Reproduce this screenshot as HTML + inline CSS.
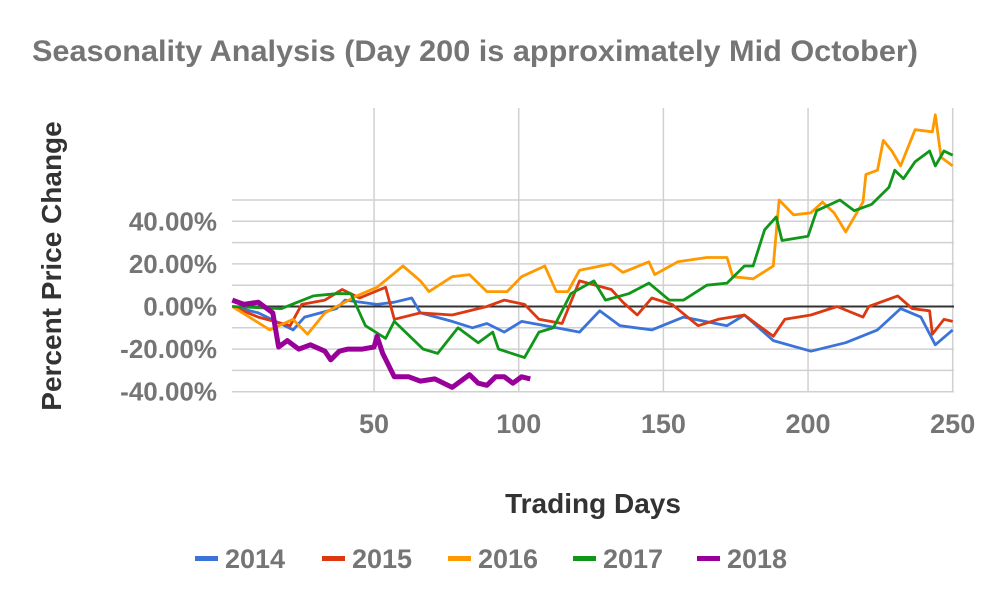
<!DOCTYPE html>
<html><head><meta charset="utf-8"><style>
body{margin:0;background:#fff;width:984px;height:609px;overflow:hidden;font-family:"Liberation Sans",sans-serif}
</style></head><body>
<svg id="chart" width="984" height="609" xmlns="http://www.w3.org/2000/svg" font-family="Liberation Sans, sans-serif">
<text x="32" y="61" font-size="30" font-weight="bold" fill="#757575" textLength="886" lengthAdjust="spacingAndGlyphs">Seasonality Analysis (Day 200 is approximately Mid October)</text>
<g id="grid"></g>
<g id="series"></g>
<g id="ticks"></g>
<text transform="translate(61,266) rotate(-90)" text-anchor="middle" font-size="28" font-weight="bold" fill="#333">Percent Price Change</text>
<text x="593" y="513" text-anchor="middle" font-size="28" font-weight="bold" fill="#333">Trading Days</text>
<g id="legend"></g>
</svg>
<script>
const years = ["2014","2015","2016","2017","2018"];
const colors = ["#3b73d8","#dc3912","#ff9900","#109618","#990099"];
const days2014 = [1,10,22,26,37,40,51,57,63,66,77,84,89,95,101,113,121,128,135,146,157,172,178,188,201,213,224,232,239,244,250];
const vals2014 = [0,-3,-11,-5,-1,3,1,2,4,-3,-7,-10,-8,-12,-7,-10,-12,-2,-9,-11,-5,-9,-4,-16,-21,-17,-11,-1,-5,-18,-11];
const days2015 = [1,10,21,25,33,39,45,54,57,66,77,89,95,102,107,115,121,132,136,141,146,153,162,169,178,188,192,201,210,219,221,231,236,242,243,247,250];
const vals2015 = [0,-5,-9,1,3,8,4,9,-6,-3,-4,0,3,1,-6,-8,12,8,2,-4,4,1,-9,-6,-4,-14,-6,-4,0,-5,0,5,-1,-2,-13,-6,-7];
const days2016 = [1,14,22,27,33,44,51,60,66,69,77,83,89,96,101,109,113,117,121,132,136,145,147,155,165,172,174,181,188,190,195,201,205,209,213,219,220,224,226,229,232,237,243,244,246,250];
const vals2016 = [0,-11,-6,-13,-3,5,9,19,12,7,14,15,7,7,14,19,7,7,17,20,16,21,15,21,23,23,14,13,19,50,43,44,49,44,35,49,62,64,78,73,66,83,82,90,70,66];
const days2017 = [1,18,29,37,42,47,54,57,67,72,79,86,91,93,102,107,112,118,126,130,138,145,152,157,165,172,178,181,185,189,191,200,203,211,216,222,228,230,233,237,242,244,247,250];
const vals2017 = [0,-1,5,6,6,-9,-15,-7,-20,-22,-10,-17,-12,-20,-24,-12,-10,6,12,3,6,11,3,3,10,11,19,19,36,42,31,33,45,50,45,48,56,64,60,68,73,66,73,71];
const days2018 = [1,5,10,15,17,20,24,28,33,35,38,41,46,50,51,53,57,62,66,71,77,83,86,89,92,95,98,101,104];
const vals2018 = [3,1,2,-3,-19,-16,-20,-18,-21,-25,-21,-20,-20,-19,-14,-22,-33,-33,-35,-34,-38,-32,-36,-37,-33,-33,-36,-33,-34];
const xTicks = [50,100,150,200,250];
const yTicks = [-40,-20,0,20,40];
const yTickLabels = ["-40.00%","-20.00%","0.00%","20.00%","40.00%"];

const NS="http://www.w3.org/2000/svg";
const L=232,R=954,T=108,B=392;
const x=d=>229.4+(d)*(952.7-229.4)/250;
const y=v=>306.5-v*2.13;
function mk(tag,attrs,parent){const e=document.createElementNS(NS,tag);for(const k in attrs)e.setAttribute(k,attrs[k]);parent.appendChild(e);return e;}
const grid=document.getElementById('grid'),ticks=document.getElementById('ticks'),series=document.getElementById('series'),legend=document.getElementById('legend');
for(let v=-40;v<=50;v+=10){if(v===0)continue;const g=mk('line',{x1:L,x2:R,y1:y(v),y2:y(v),stroke:'#d0d0d0','stroke-width':1.5},grid);

}
xTicks.forEach(d=>{const g=mk('line',{x1:x(d),x2:x(d),y1:T,y2:B,stroke:'#d0d0d0','stroke-width':1.5},grid);


const t=mk('text',{x:x(d),y:433,'text-anchor':'middle','font-size':27,'font-weight':'bold',fill:'#757575'},ticks);t.textContent=d;

});
yTicks.forEach((v,i)=>{const t=mk('text',{x:217,y:y(v)+9,'text-anchor':'end','font-size':26,'font-weight':'bold',fill:'#757575'},ticks);t.textContent=yTickLabels[i];

});
const zl=mk('line',{x1:L,x2:R,y1:y(0),y2:y(0),stroke:'#333','stroke-width':2},grid);


const D=[days2014,days2015,days2016,days2017,days2018],V=[vals2014,vals2015,vals2016,vals2017,vals2018];
D.forEach((ds,i)=>{const pts=ds.map((d,j)=>x(d).toFixed(1)+','+y(V[i][j]).toFixed(1)).join(' ');
const p=mk('polyline',{points:pts,fill:'none',stroke:colors[i],'stroke-width':i===4?5:2.8,'stroke-linejoin':'round'},series);

});
const lx=[225,352,478,603,727];
years.forEach((yr,i)=>{const r=mk('rect',{x:lx[i]-30,y:556,width:23,height:5,fill:colors[i]},legend);


const t=mk('text',{x:lx[i],y:568,'font-size':27,'font-weight':'bold',fill:'#757575'},legend);t.textContent=yr;

});
</script>
</body></html>
